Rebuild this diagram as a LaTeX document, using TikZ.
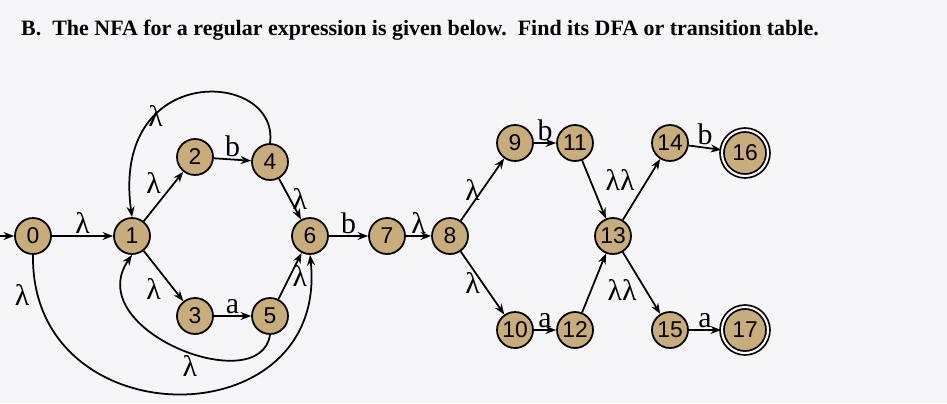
\documentclass[tikz,border=0pt]{standalone}
\usepackage{fontspec}
\setmainfont{Liberation Serif}
\newfontfamily\nodefont{Liberation Sans}
\usetikzlibrary{arrows.meta}
\definecolor{tan}{RGB}{200,172,122}
\definecolor{paper}{RGB}{246,246,248}
\begin{document}
\begin{tikzpicture}[x=0.02cm,y=-0.02cm,
  st/.style={circle,draw,line width=1pt,fill=tan,minimum size=0.72cm,inner sep=0pt,font=\nodefont\fontsize{13}{13}\selectfont},
  fin/.style={st,double,double distance=1.2pt,minimum size=0.92cm},
  ed/.style={-{Stealth[length=6pt]},line width=1pt},
  lb/.style={font=\fontsize{17}{17}\selectfont,inner sep=1pt}]
\fill[paper] (0,0) rectangle (947,403);
\useasboundingbox (0,0) rectangle (947,403);
\node[anchor=west,font=\bfseries\fontsize{12.5}{12.5}\selectfont] (title) at (15,30) {B.\ \ The NFA for a regular expression is given below.\ \ Find its DFA or transition table.};
\node[st] (n0) at (33,236) {0};
\node[st] (n1) at (132,236) {1};
\node[st] (n2) at (195,157) {2};
\node[st] (n3) at (195,316) {3};
\node[st] (n4) at (270,162) {4};
\node[st] (n5) at (270,316) {5};
\node[st] (n6) at (310,236) {6};
\node[st] (n7) at (387,236) {7};
\node[st] (n8) at (450,236) {8};
\node[st] (n9) at (515,143) {9};
\node[st] (n11) at (575,143) {11};
\node[st] (n10) at (515,330) {10};
\node[st] (n12) at (575,330) {12};
\node[st] (n13) at (613,236) {13};
\node[st] (n14) at (670,143) {14};
\node[st] (n15) at (670,330) {15};
\node[fin] (n16) at (745,153) {16};
\node[fin] (n17) at (745,330) {17};
\coordinate (start) at (-5,236);
\draw[ed] (start) -- (n0);
\draw[ed] (n0) -- node[lb,above]{λ} (n1);
\draw[ed] (n1) -- node[lb,above left]{λ} (n2);
\draw[ed] (n1) -- node[lb,below left]{λ} (n3);
\draw[ed] (n2) -- node[lb,above]{b} (n4);
\draw[ed] (n3) -- node[lb,above]{a} (n5);
\draw[ed] (n4) -- node[lb,right]{λ} (n6);
\draw[ed] (n5) -- node[lb,right]{λ} (n6);
\draw[ed] (n6) -- node[lb,above]{b} (n7);
\draw[ed] (n7) -- node[lb,above]{λ} (n8);
\draw[ed] (n8) -- node[lb,left]{λ} (n9);
\draw[ed] (n8) -- node[lb,left]{λ} (n10);
\draw[ed] (n9) -- node[lb,above]{b} (n11);
\draw[ed] (n10) -- node[lb,above]{a} (n12);
\draw[ed] (n11) -- (n13);
\draw[ed] (n12) -- (n13);
\draw[ed] (n13) -- (n14);
\draw[ed] (n13) -- (n15);
\node[lb] (l1) at (620,180) {λλ};
\node[lb] (l2) at (622,290) {λλ};
\draw[ed] (n14) -- node[lb,above]{b} (n16);
\draw[ed] (n15) -- node[lb,above]{a} (n17);
\draw[ed] (n4.north) .. controls (280,70) and (110,60) .. node[lb,pos=0.75,above right]{λ} (n1.north);
\draw[ed] (n5.south) .. controls (260,400) and (80,330) .. node[lb,pos=0.45,below]{λ} (n1.south);
\draw[ed] (n0.south) .. controls (30,440) and (330,440) .. (n6.south);
\node[lb] (l06) at (22,295) {λ};
\end{tikzpicture}
\end{document}
